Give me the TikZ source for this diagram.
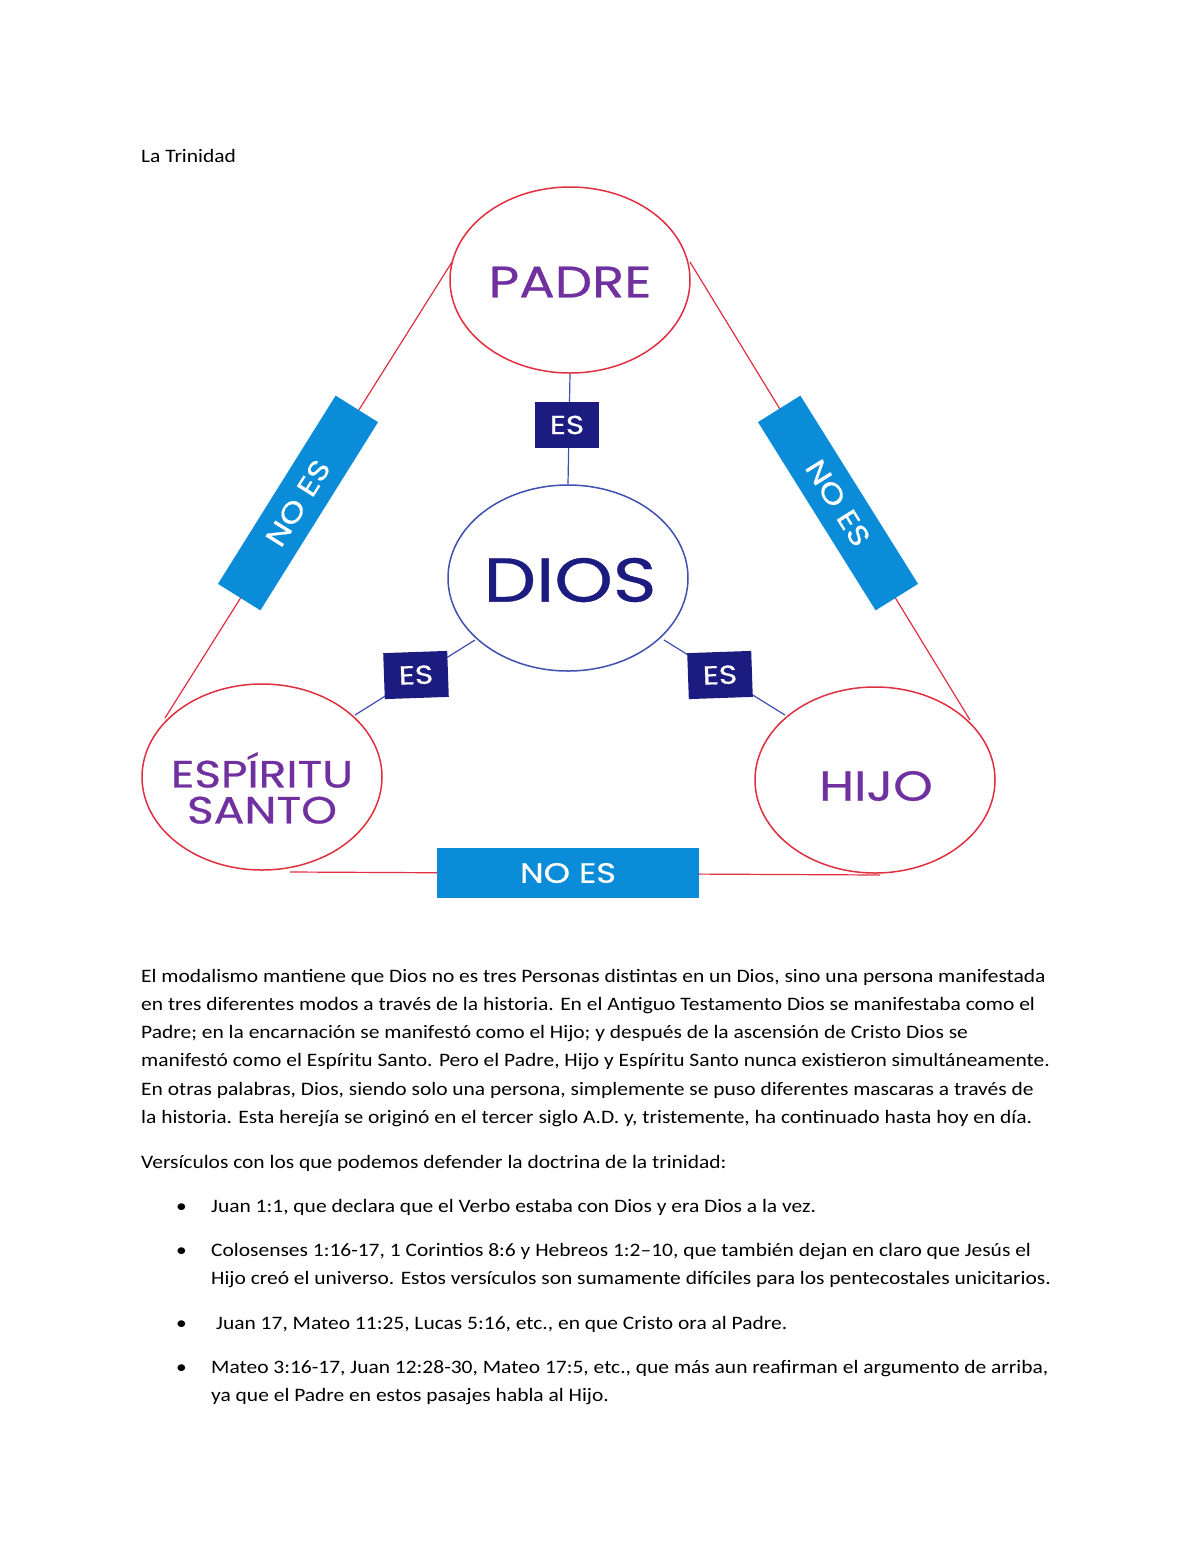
\documentclass[tikz,border=0pt]{standalone}
\usepackage{fontspec}
\setmainfont{Carlito}[FakeStretch=1.13]
\newfontfamily\gfont{Poppins}[FakeStretch=1.2,FakeBold=0.6]
\definecolor{purp}{HTML}{7030A0}
\definecolor{navy}{HTML}{1C1C80}
\definecolor{sky}{HTML}{0A8CD8}
\definecolor{redl}{HTML}{E03040}
\definecolor{bluel}{HTML}{4050B0}
\usetikzlibrary{shapes.geometric}
\begin{document}
\begin{tikzpicture}[x=1pt,y=-1pt,
 noes/.style={fill=sky,text=white,font=\gfont\fontsize{28}{28}\selectfont,minimum width=#1,minimum height=50pt,inner sep=0},
 esbox/.style={fill=navy,text=white,font=\gfont\fontsize{26}{26}\selectfont,minimum width=64pt,minimum height=46pt,inner sep=0},
 big/.style={text=purp,font=\gfont\fontsize{#1}{#1}\selectfont},
 body/.style={anchor=base west,inner sep=0,font=\fontsize{19}{19}\selectfont}]
\useasboundingbox (0,0) rectangle (1200,1553);
\node[ellipse,draw=redl,line width=1.5pt,minimum width=240pt,minimum height=186pt] (padre) at (570,280) {};
\node[ellipse,draw=bluel,line width=1.5pt,minimum width=240pt,minimum height=186pt] (dios) at (568,578) {};
\node[ellipse,draw=redl,line width=1.5pt,minimum width=240pt,minimum height=186pt] (esp) at (262,777) {};
\node[ellipse,draw=redl,line width=1.5pt,minimum width=240pt,minimum height=186pt] (hijo) at (875,780) {};
\node[big=44] at (570,282) {PADRE};
\node[text=navy,font=\gfont\fontsize{62}{62}\selectfont] at (570,580) {DIOS};
\node[big=40,align=center,font=\gfont\fontsize{38}{36}\selectfont] at (262,788) {ESPÍRITU\\SANTO};
\node[big=42] at (876,786) {HIJO};
\coordinate (pl) at (452,262); \coordinate (pr) at (690,262);
\coordinate (el) at (165,718); \coordinate (hr) at (970,720);
\coordinate (eb) at (290,872); \coordinate (hb) at (880,875);
\draw[redl,line width=1.2pt] (pl) -- (el);
\draw[redl,line width=1.2pt] (pr) -- (hr);
\draw[redl,line width=1.2pt] (eb) -- (hb);
\node[noes=222pt,rotate=58] (n1) at (298,503) {NO ES};
\node[noes=222pt,rotate=-58] (n2) at (838,503) {NO ES};
\node[noes=262pt] (n3) at (568,873) {NO ES};
\draw[bluel,line width=1.2pt] (padre.south) -- (dios.north);
\node[esbox] (e1) at (567,425) {ES};
\coordinate (dl) at (475,640); \coordinate (dr) at (664,640);
\coordinate (sl) at (355,715); \coordinate (hl) at (785,715);
\draw[bluel,line width=1.2pt] (dl) -- (sl);
\draw[bluel,line width=1.2pt] (dr) -- (hl);
\node[esbox,rotate=2] (e2) at (416,675) {ES};
\node[esbox,rotate=2] (e3) at (720,675) {ES};
\node[body] at (141,162) {La Trinidad};
\foreach \t [count=\i] in {
El modalismo mantiene que Dios no es tres Personas distintas en un Dios{,} sino una persona manifestada,
en tres diferentes modos a través de la historia. En el Antiguo Testamento Dios se manifestaba como el,
Padre; en la encarnación se manifestó como el Hijo; y después de la ascensión de Cristo Dios se,
manifestó como el Espíritu Santo. Pero el Padre{,} Hijo y Espíritu Santo nunca existieron simultáneamente.,
En otras palabras{,} Dios{,} siendo solo una persona{,} simplemente se puso diferentes mascaras a través de,
la historia. Esta herejía se originó en el tercer siglo A.D. y{,} tristemente{,} ha continuado hasta hoy en día.}
 \node[body] at (141,{982+(\i-1)*28.3}) {\t};
\node[body] at (141,1168) {Versículos con los que podemos defender la doctrina de la trinidad:};
\foreach \y in {1212,1256,1329,1373} \node[body] at (176,\y) {•};
\node[body] at (211,1212) {Juan 1:1, que declara que el Verbo estaba con Dios y era Dios a la vez.};
\node[body] at (211,1256) {Colosenses 1:16-17, 1 Corintios 8:6 y Hebreos 1:2–10, que también dejan en claro que Jesús el};
\node[body] at (211,1284) {Hijo creó el universo. Estos versículos son sumamente difíciles para los pentecostales unicitarios.};
\node[body] at (216,1329) {Juan 17, Mateo 11:25, Lucas 5:16, etc., en que Cristo ora al Padre.};
\node[body] at (211,1373) {Mateo 3:16-17, Juan 12:28-30, Mateo 17:5, etc., que más aun reafirman el argumento de arriba,};
\node[body] at (211,1401) {ya que el Padre en estos pasajes habla al Hijo.};
\end{tikzpicture}
\end{document}
